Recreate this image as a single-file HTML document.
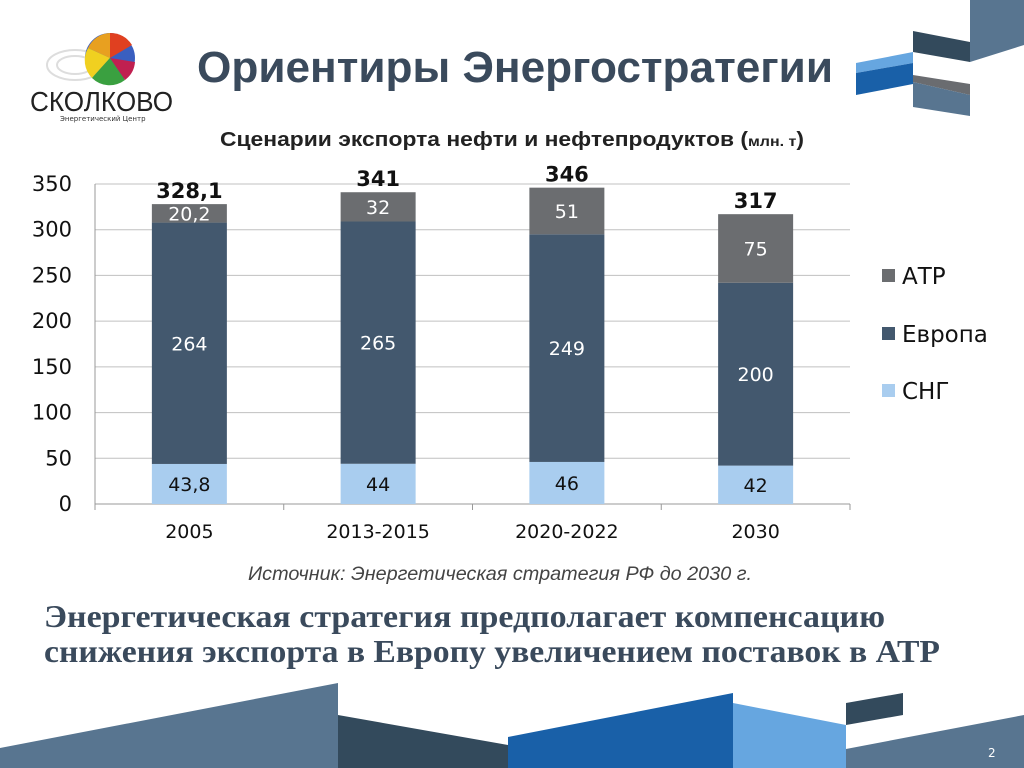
<!DOCTYPE html>
<html><head><meta charset="utf-8"><style>
html,body{margin:0;padding:0;width:1024px;height:768px;overflow:hidden;background:#fff;}
text{font-family:"DejaVu Sans","Liberation Sans",sans-serif;}
</style></head><body>
<svg width="1024" height="768" viewBox="0 0 1024 768" xmlns="http://www.w3.org/2000/svg">
<g>
<polygon points="970,0 1024,0 1024,45 970,62" fill="#587590"/>
<polygon points="913,31 970,42 970,62 913,52" fill="#334a5c"/>
<polygon points="856,63 913,52 913,63 856,73" fill="#66a6e0"/>
<polygon points="856,73 913,63 913,84 856,95" fill="#1960a8"/>
<polygon points="913,75 970,84 970,95 913,82" fill="#6a6c70"/>
<polygon points="913,82 970,95 970,116 913,107" fill="#587590"/>
</g>
<g>
<ellipse cx="75" cy="65" rx="28" ry="15" fill="none" stroke="#ddd" stroke-width="2"/>
<ellipse cx="75" cy="65" rx="18" ry="9" fill="none" stroke="#ddd" stroke-width="2"/>
<circle cx="110" cy="58" r="25" fill="#3a5fc0"/>
<path d="M88,48 A25,25 0 0 1 110,33 L110,58 Z" fill="#e8a020"/>
<path d="M88,48 L110,58 L92,78 A25,25 0 0 1 88,48 Z" fill="#f0d020"/>
<path d="M92,78 L110,58 L125,80 A25,25 0 0 1 92,78Z" fill="#3aa040"/>
<path d="M125,80 L110,58 L135,62 A25,25 0 0 1 125,80Z" fill="#c02050"/>
<path d="M110,33 A25,25 0 0 1 132,45 L110,58Z" fill="#e04020"/>
<text x="30" y="111" font-size="28" fill="#222" textLength="143" lengthAdjust="spacingAndGlyphs" style="font-family:'Liberation Sans',sans-serif">СКОЛКОВО</text>
<text x="60" y="121" font-size="7" fill="#333">Энергетический Центр</text>
</g>
<text x="197" y="82" font-size="44" font-weight="bold" fill="#3a4a5c" textLength="636" lengthAdjust="spacingAndGlyphs" style="font-family:'Liberation Sans',sans-serif">Ориентиры Энергостратегии</text>
<text x="220" y="146" font-size="20" font-weight="bold" fill="#222" textLength="584" lengthAdjust="spacingAndGlyphs" style="font-family:'Liberation Sans',sans-serif">Сценарии экспорта нефти и нефтепродуктов (<tspan font-size="14">млн. т</tspan>)</text>
<g id="chart"></g>
<text x="248" y="580" font-size="19" font-style="italic" fill="#444" textLength="504" lengthAdjust="spacingAndGlyphs" style="font-family:'Liberation Sans',sans-serif">Источник: Энергетическая стратегия РФ до 2030 г.</text>
<text x="44" y="627" font-size="32" font-weight="bold" fill="#3a4a5c" textLength="841" lengthAdjust="spacingAndGlyphs" style="font-family:'Liberation Serif',serif">Энергетическая стратегия предполагает компенсацию</text>
<text x="44" y="662" font-size="32" font-weight="bold" fill="#3a4a5c" textLength="896" lengthAdjust="spacingAndGlyphs" style="font-family:'Liberation Serif',serif">снижения экспорта в Европу увеличением поставок в АТР</text>
<g>
<polygon points="0,748 338,683 338,768 0,768" fill="#587590"/>
<polygon points="338,715 508,745 508,768 338,768" fill="#334a5c"/>
<polygon points="508,737 733,693 733,768 508,768" fill="#1960a8"/>
<polygon points="733,703 846,725 846,768 733,768" fill="#66a6e0"/>
<polygon points="846,749 1024,715 1024,768 846,768" fill="#587590"/>
<polygon points="846,703 903,693 903,715 846,725" fill="#334a5c"/>
<text x="988" y="757" font-size="12" fill="#fff">2</text>
</g>
</svg>
<script>
const categories=["2005","2013-2015","2020-2022","2030"];
const cis=[43.8,44,46,42];
const europe=[264,265,249,200];
const apr=[20.2,32,51,75];
const totals=["328,1","341","346","317"];
const cisLabels=["43,8","44","46","42"];
const europeLabels=["264","265","249","200"];
const aprLabels=["20,2","32","51","75"];
const yTicks=[0,50,100,150,200,250,300,350];
const NS="http://www.w3.org/2000/svg";
const g=document.getElementById('chart');
const x0=95,x1=850,yBase=504,yTop=184,yMax=350;
const y=v=>yBase-v/yMax*(yBase-yTop);
const band=(x1-x0)/categories.length;
const cx=i=>x0+band*(i+0.5);
const bw=75;
function el(t,a,txt){const e=document.createElementNS(NS,t);for(const k in a)e.setAttribute(k,a[k]);if(txt!=null)e.textContent=txt;g.appendChild(e);return e;}
yTicks.forEach(v=>{
 const l=el('line',{x1:x0,x2:x1,y1:y(v),y2:y(v),stroke:v===0?'#999':'#c0c0c0','stroke-width':1});
 
 
 const t=el('text',{x:72,y:y(v)+7,'font-size':21,fill:'#111','text-anchor':'end'},String(v));
 
 
});
const ax=el('line',{x1:x0,x2:x0,y1:yTop,y2:yBase+6,stroke:'#999'});


for(let i=0;i<=categories.length;i++){
 const tk=el('line',{x1:x0+band*i,x2:x0+band*i,y1:yBase,y2:yBase+6,stroke:'#999'});
 
 
}
const series=[[cis,'#a9cdef','#111',cisLabels,'cis'],[europe,'#43586e','#fff',europeLabels,'europe'],[apr,'#6b6d70','#fff',aprLabels,'apr']];
categories.forEach((c,i)=>{
 let base=0;
 series.forEach(([vals,col,tc,labs,nm])=>{
  const v=vals[i];
  const r=el('rect',{x:cx(i)-bw/2,y:y(base+v),width:bw,height:y(base)-y(base+v),fill:col});
  
  
  const t=el('text',{x:cx(i),y:(y(base)+y(base+v))/2+7,'font-size':19,fill:tc,'text-anchor':'middle'},labs[i]);
  
  
  base+=v;
 });
 const tt=el('text',{x:cx(i),y:y(base)-6,'font-size':21,'font-weight':'bold',fill:'#111','text-anchor':'middle'},totals[i]);
 
 
 const xl=el('text',{x:cx(i),y:538,'font-size':19,fill:'#111','text-anchor':'middle'},c);
 
 
});
const legend=[['АТР','#6b6d70',276],['Европа','#43586e',334],['СНГ','#a9cdef',391]];
legend.forEach(([n,col,yy])=>{
 const r=el('rect',{x:882,y:yy-7,width:13,height:13,fill:col});
 
 
 const t=el('text',{x:902,y:yy+8,'font-size':23,fill:'#111'},n);
 
 
});
</script>
</body></html>
